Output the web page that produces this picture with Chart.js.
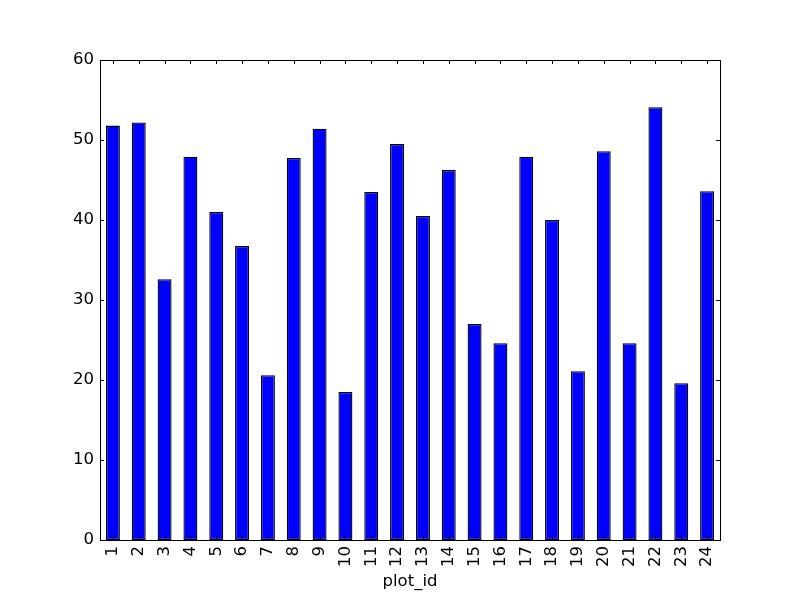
<!DOCTYPE html>
<html>
<head>
<meta charset="utf-8">
<script src="https://cdn.jsdelivr.net/npm/chart.js@4.4.0/dist/chart.umd.min.js"></script>
<style>
  html, body { margin: 0; padding: 0; background: #fff; }
  #wrap { width: 800px; height: 600px; }
</style>
</head>
<body>
<div id="wrap"><canvas id="chart" width="800" height="600"></canvas></div>
<script>
const plotIds = ["1","2","3","4","5","6","7","8","9","10","11","12",
  "13","14","15","16","17","18","19","20","21","22","23","24"];
const plotValues = [51.8, 52.2, 32.6, 47.9, 41.0, 36.75, 20.6, 47.75, 51.4, 18.5, 43.5, 49.5,
  40.5, 46.25, 27.0, 24.6, 47.9, 40.0, 21.1, 48.6, 24.6, 54.1, 19.6, 43.6];
const yTicks = [0, 10, 20, 30, 40, 50, 60];

const font = { family: "DejaVu Sans", size: 16.5 };

// matplotlib-style frame with inward ticks on all four sides
const framePlugin = {
  id: "frame",
  afterDraw(chart) {
    const { ctx, chartArea: a, scales } = chart;
    ctx.save();
    ctx.strokeStyle = "#000";
    ctx.lineWidth = 1;
    ctx.beginPath();
    scales.x.ticks.forEach((t, i) => {
      const px = Math.round(scales.x.getPixelForTick(i)) + 0.5;
      ctx.moveTo(px, a.bottom); ctx.lineTo(px, a.bottom - 4);
      ctx.moveTo(px, a.top); ctx.lineTo(px, a.top + 4);
    });
    yTicks.forEach(v => {
      const py = Math.round(scales.y.getPixelForValue(v)) + 0.5;
      ctx.moveTo(a.left, py); ctx.lineTo(a.left + 4, py);
      ctx.moveTo(a.right, py); ctx.lineTo(a.right - 4, py);
    });
    ctx.stroke();
    ctx.strokeRect(Math.round(a.left) + 0.5, Math.round(a.top) + 0.5,
      Math.round(a.right - a.left), Math.round(a.bottom - a.top));
    ctx.restore();
  }
};

new Chart(document.getElementById("chart"), {
  type: "bar",
  data: {
    labels: plotIds,
    datasets: [{
      label: "value",
      data: plotValues,
      backgroundColor: "#0000ff",
      borderColor: "#000000",
      borderWidth: 1.3,
      borderSkipped: false,
      categoryPercentage: 1.0,
      barPercentage: 0.54,
    }],
  },
  options: {
    responsive: false,
    animation: false,
    layout: { padding: { left: 0, right: 80, top: 60, bottom: 0 } },
    plugins: {
      legend: { display: false },
      tooltip: { enabled: false },
    },
    scales: {
      x: {
        offset: true,
        grid: { display: false, drawTicks: false },
        border: { display: false },
        ticks: { color: "#000", font: font, minRotation: 90, maxRotation: 90, padding: 6, autoSkip: false },
        title: { display: true, text: "plot_id", color: "#000", font: font, padding: { top: 0, bottom: 8 } },
        afterFit(scale) { scale.height = 60; },
      },
      y: {
        min: 0,
        max: 60,
        grid: { display: false, drawTicks: false },
        border: { display: false },
        ticks: { color: "#000", font: font, stepSize: 10, padding: 6 },
        afterFit(scale) { scale.width = 100; },
      },
    },
  },
  plugins: [framePlugin],
});
</script>
</body>
</html>
